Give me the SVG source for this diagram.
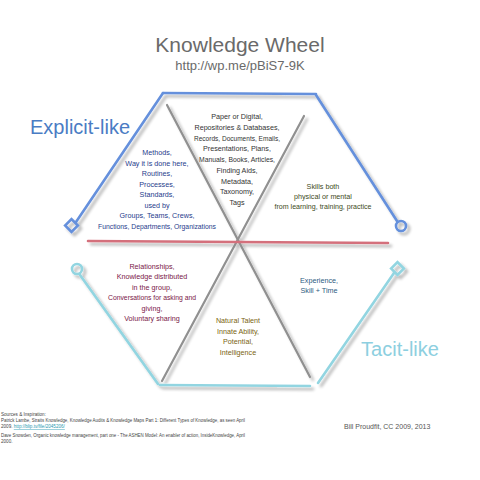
<svg xmlns="http://www.w3.org/2000/svg" width="480" height="480" viewBox="0 0 480 480">
<defs>
<filter id="sh" x="-20%" y="-20%" width="140%" height="140%">
<feGaussianBlur in="SourceAlpha" stdDeviation="1.5"/>
<feOffset dx="3" dy="3" result="b"/>
<feComponentTransfer><feFuncA type="linear" slope="0.3"/></feComponentTransfer>
<feMerge><feMergeNode/><feMergeNode in="SourceGraphic"/></feMerge>
</filter>
<filter id="soft"><feGaussianBlur stdDeviation="0.45"/></filter>
</defs>
<style>
.t{font-family:"Liberation Sans","DejaVu Sans",sans-serif;text-anchor:middle}
.lbl{font-size:7.2px}
.blue{stroke:#6590dc;stroke-width:2.6;fill:none;stroke-linecap:round}
.cyan{stroke:#92d5e1;stroke-width:2.6;fill:none;stroke-linecap:round}
.red{stroke:#d4707c;stroke-width:2.6;fill:none;stroke-linecap:round}
.gray{stroke:#909090;stroke-width:2.2;fill:none;stroke-linecap:round}
.src{font-family:"Liberation Sans","DejaVu Sans",sans-serif;font-size:4.6px;fill:#444}
</style>
<rect width="480" height="480" fill="#ffffff"/>
<g id="title">
<text class="t" x="240" y="52" font-size="21" fill="#6a6a6a">Knowledge Wheel</text>
<text class="t" x="240" y="70" font-size="13" fill="#6a6a6a">http://wp.me/pBiS7-9K</text>
</g>
<g id="connectors" filter="url(#sh)">
<g filter="url(#soft)">
<line class="gray" x1="167" y1="105" x2="310" y2="377"/>
<line class="gray" x1="304" y1="116" x2="162" y2="381"/>
<line class="red" x1="88" y1="241" x2="388" y2="243"/>
<line class="blue" x1="163" y1="93" x2="316" y2="94"/>
<line class="blue" x1="163" y1="93" x2="76" y2="222"/>
<rect x="67" y="221" width="9" height="9" transform="rotate(45 71.5 225.5)" class="blue" stroke-width="2"/>
<line class="blue" x1="316" y1="95" x2="397" y2="221"/>
<circle cx="401" cy="226" r="5" class="blue" stroke-width="2"/>
<circle cx="77" cy="269" r="5" class="cyan" stroke-width="2"/>
<line class="cyan" x1="80" y1="275" x2="158" y2="384"/>
<line class="cyan" x1="160" y1="385" x2="310" y2="386"/>
<line class="cyan" x1="318" y1="383" x2="394" y2="273"/>
<rect x="393" y="264" width="9" height="9" transform="rotate(45 397.5 268.5)" class="cyan" stroke-width="2"/>
</g>
</g>
<g id="explicit"><text class="t" x="80" y="134" font-size="20" fill="#4a7cc4">Explicit-like</text></g>
<g id="tacit"><text class="t" x="400" y="356" font-size="20" fill="#8dcfe0">Tacit-like</text></g>
<g id="node-left-top" class="t lbl" fill="#1f3c8c">
<text x="157" y="155">Methods,</text>
<text x="157" y="166">Way it is done here,</text>
<text x="157" y="176">Routines,</text>
<text x="157" y="187">Processes,</text>
<text x="157" y="197">Standards,</text>
<text x="157" y="208">used by</text>
<text x="157" y="218">Groups, Teams, Crews,</text>
<text x="157" y="229" textLength="118" lengthAdjust="spacingAndGlyphs">Functions, Departments, Organizations</text>
</g>
<g id="node-top" class="t lbl" fill="#333333">
<text x="237" y="119">Paper or Digital,</text>
<text x="237" y="130">Repositories &amp; Databases,</text>
<text x="237" y="141" textLength="86" lengthAdjust="spacingAndGlyphs">Records, Documents, Emails,</text>
<text x="237" y="151">Presentations, Plans,</text>
<text x="237" y="162" textLength="76" lengthAdjust="spacingAndGlyphs">Manuals, Books, Articles,</text>
<text x="237" y="173">Finding Aids,</text>
<text x="237" y="184">Metadata,</text>
<text x="237" y="194">Taxonomy,</text>
<text x="237" y="205">Tags</text>
</g>
<g id="node-right-top" class="t lbl" fill="#3d4a22">
<text x="323" y="189">Skills both</text>
<text x="323" y="199">physical or mental</text>
<text x="323" y="209" textLength="97" lengthAdjust="spacingAndGlyphs">from learning, training, practice</text>
</g>
<g id="node-left-bottom" class="t lbl" fill="#7a1848">
<text x="152" y="269">Relationships,</text>
<text x="152" y="279">Knowledge distributed</text>
<text x="152" y="290">in the group,</text>
<text x="152" y="300" textLength="88" lengthAdjust="spacingAndGlyphs">Conversations for asking and</text>
<text x="152" y="311">giving,</text>
<text x="152" y="321">Voluntary sharing</text>
</g>
<g id="node-bottom" class="t lbl" fill="#7a6410">
<text x="238" y="323">Natural Talent</text>
<text x="238" y="334">Innate Ability,</text>
<text x="238" y="344">Potential,</text>
<text x="238" y="355">Intelligence</text>
</g>
<g id="node-right-bottom" class="t lbl" fill="#2c5a80">
<text x="319" y="283">Experience,</text>
<text x="319" y="293">Skill + Time</text>
</g>
<g id="sources">
<text class="src" x="1" y="416">Sources &amp; Inspiration:</text>
<text class="src" x="1" y="422" textLength="244" lengthAdjust="spacingAndGlyphs">Patrick Lambe,  Straits Knowledge, Knowledge Audits &amp; Knowledge Maps Part 1: Different Types of Knowledge,  as seen April</text>
<text class="src" x="1" y="428">2009. <tspan fill="#2a9ab0" text-decoration="underline">http://blip.tv/file/2045206/</tspan></text>
<text class="src" x="1" y="437" textLength="244" lengthAdjust="spacingAndGlyphs">Dave Snowden,  Organic knowledge management, part one - The ASHEN Model: An enabler of action, InsideKnowledge, April</text>
<text class="src" x="1" y="443">2000.</text>
</g>
<g id="credit"><text x="344" y="429" font-family="Liberation Sans, DejaVu Sans, sans-serif" font-size="7" fill="#555">Bill Proudfit, CC 2009, 2013</text></g>
</svg>
